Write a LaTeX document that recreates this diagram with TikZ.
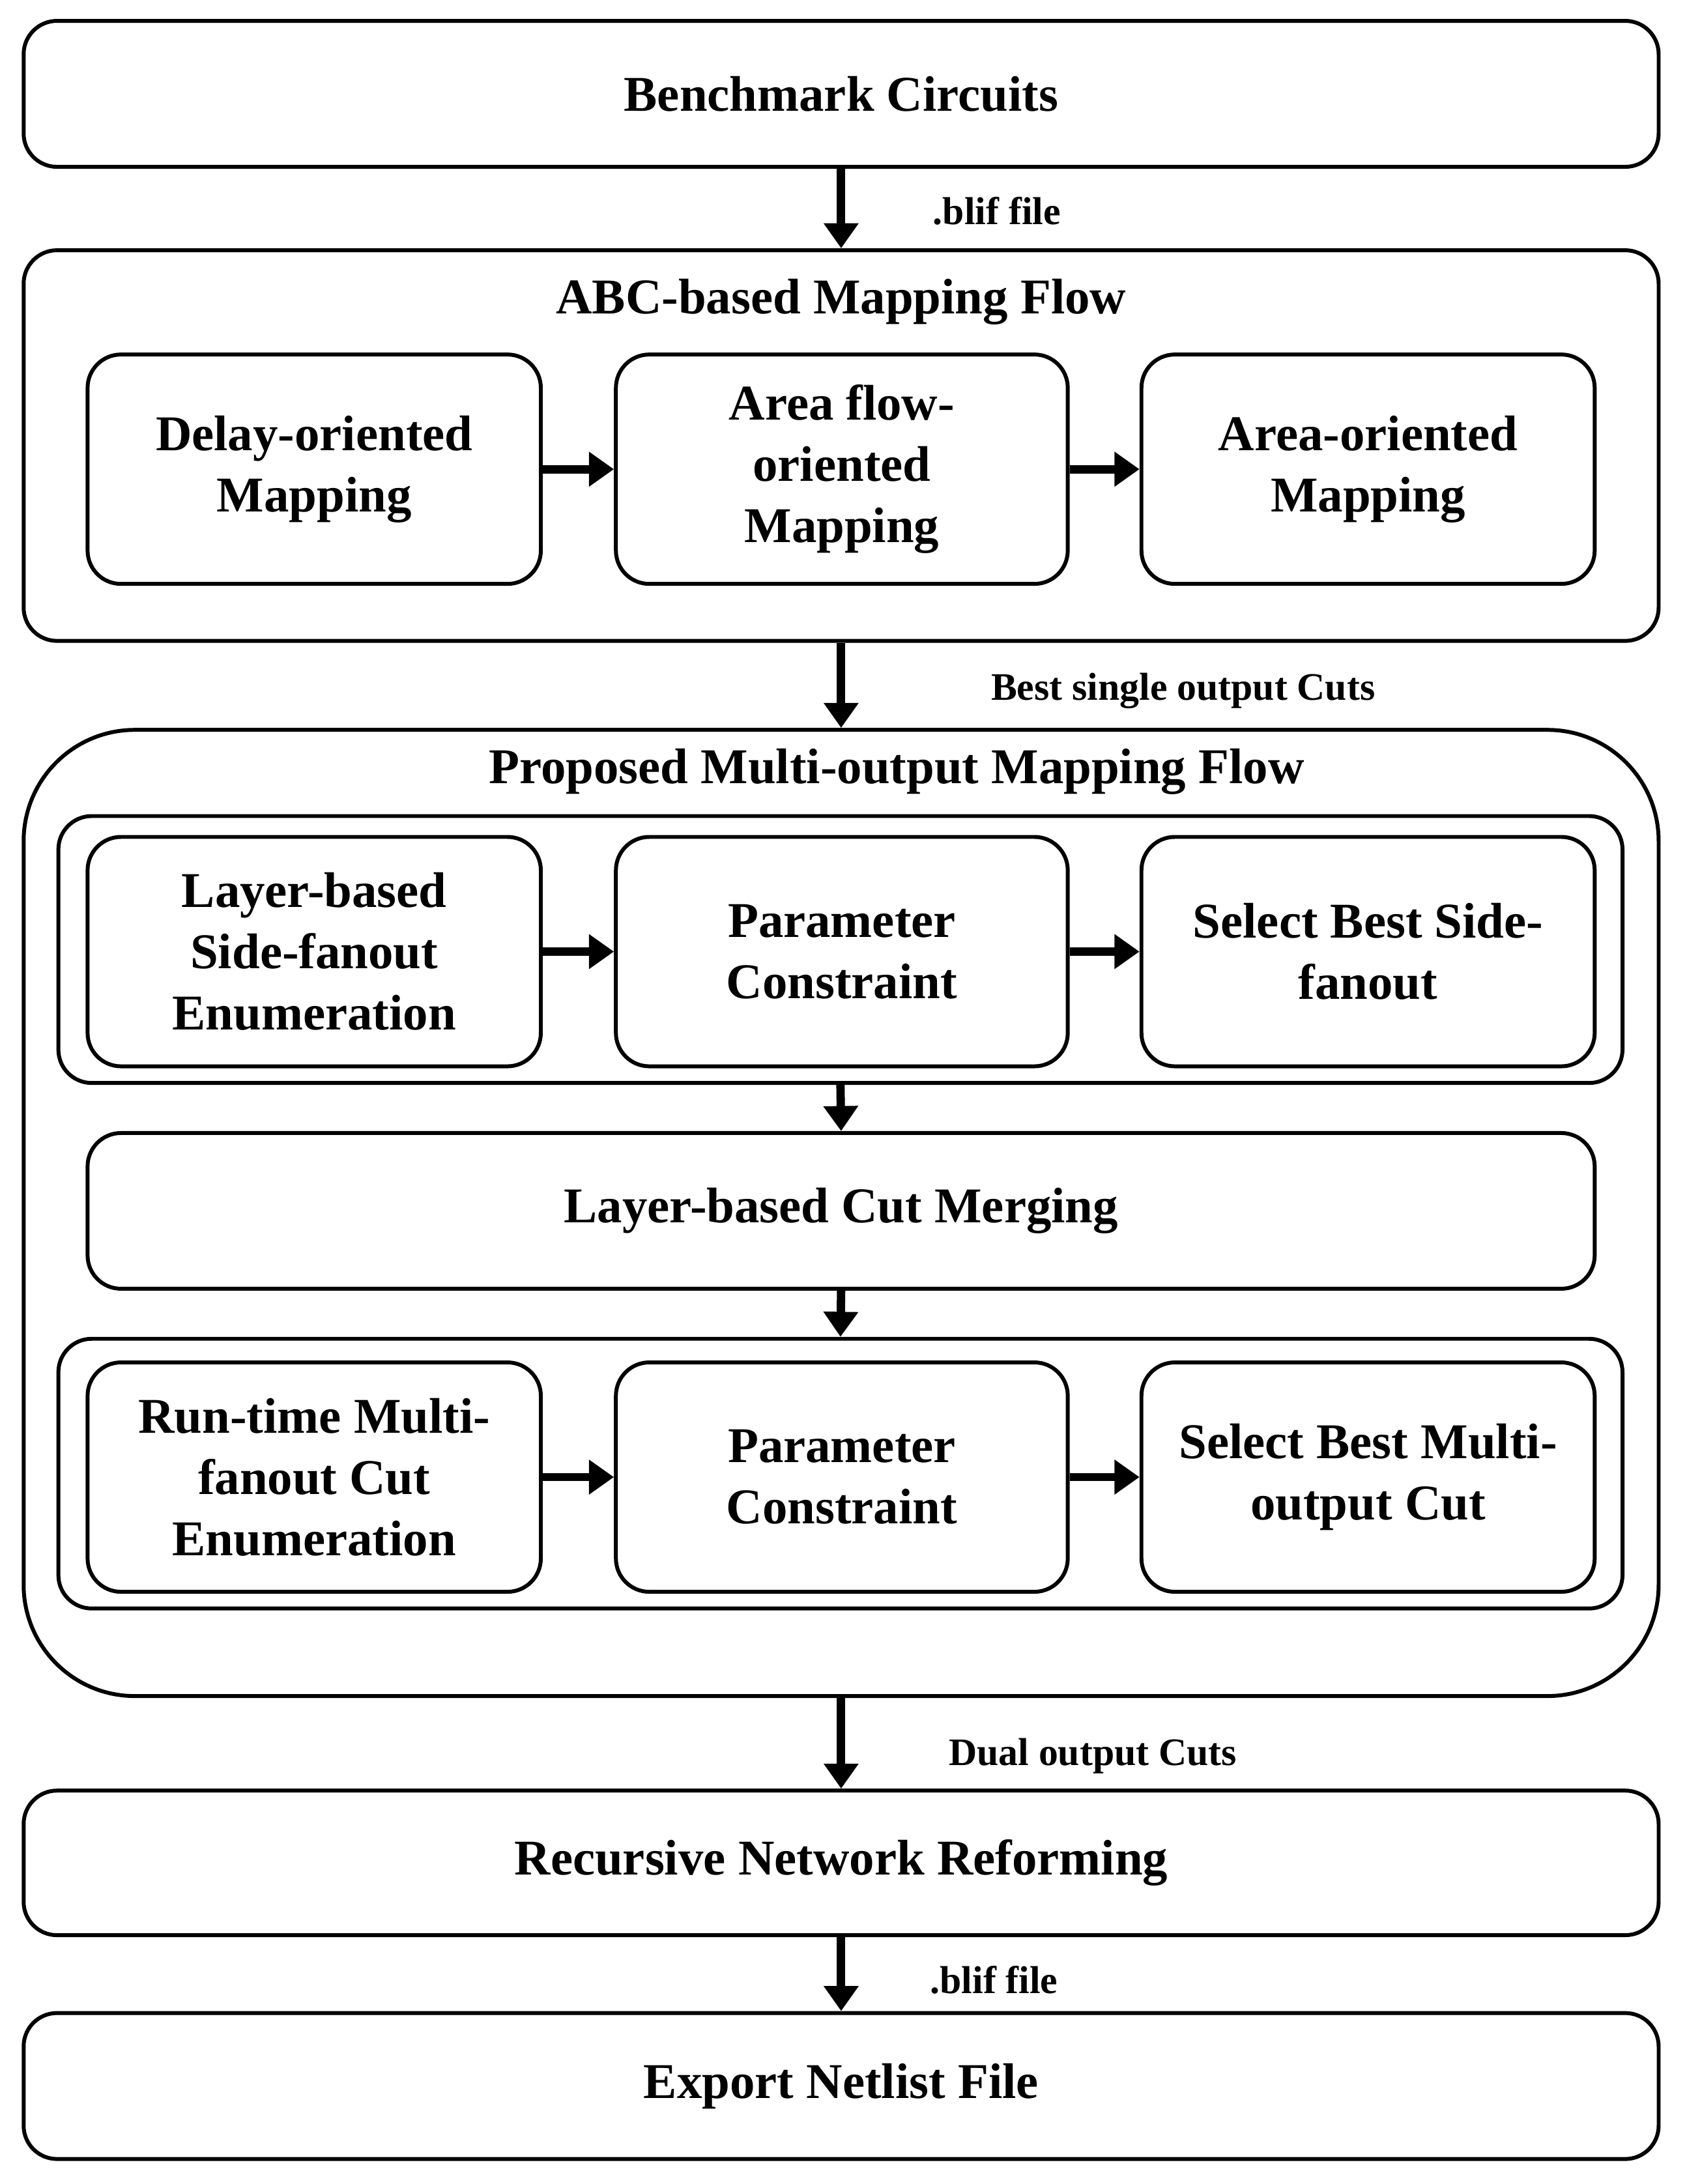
\documentclass[tikz,border=0pt]{standalone}
\usepackage{fontspec}
\setmainfont{Liberation Serif}
\usetikzlibrary{arrows.meta}
\begin{document}
\begin{tikzpicture}[x=0.5pt,y=-0.5pt,
 box/.style={draw,line width=1.4pt,rounded corners=12pt,inner sep=0pt,align=center,font=\fontsize{18}{22}\selectfont\bfseries},
 arr/.style={line width=3pt,-{Triangle[length=9pt,width=12pt]}},
 lab/.style={font=\fontsize{14}{16}\selectfont\bfseries,anchor=center}]
\useasboundingbox (0,0) rectangle (1213,1571);
\newcommand{\bx}[6][]{\node[box,#1,minimum width=(#4-#2)*0.5pt,minimum height=(#5-#3)*0.5pt] (#6) at ({(#2+#4)/2},{(#3+#5)/2}) {};}
% outer
\bx{17}{15}{1193}{120}{bench}
\node[box,draw=none] at (bench) {Benchmark Circuits};
\bx{17}{180}{1193}{461}{abc}
\node[box,draw=none] at (605,217) {ABC-based Mapping Flow};
\bx[rounded corners=40pt]{17}{525}{1193}{1220}{prop}
\node[box,draw=none] at (645,555) {Proposed Multi-output Mapping Flow};
\bx{17}{1288}{1193}{1392}{rec}
\node[box,draw=none] at (rec) {Recursive Network Reforming};
\bx{17}{1448}{1193}{1553}{exp}
\node[box,draw=none] at (exp) {Export Netlist File};
% ABC inner
\bx{63}{255}{389}{420}{a1}\node[box,draw=none] at (a1) {Delay-oriented\\Mapping};
\bx{443}{255}{768}{420}{a2}\node[box,draw=none] at (a2) {Area flow-\\oriented\\Mapping};
\bx{821}{255}{1147}{420}{a3}\node[box,draw=none] at (a3) {Area-oriented\\Mapping};
% group 1
\bx{42}{587}{1167}{779}{g1}
\bx{63}{602}{389}{767}{b1}\node[box,draw=none] at (b1) {Layer-based\\Side-fanout\\Enumeration};
\bx{443}{602}{768}{767}{b2}\node[box,draw=none] at (b2) {Parameter\\Constraint};
\bx{821}{602}{1147}{767}{b3}\node[box,draw=none] at (b3) {Select Best Side-\\fanout};
\bx{63}{815}{1147}{927}{cm}\node[box,draw=none] at (cm) {Layer-based Cut Merging};
% group 2
\bx{42}{963}{1167}{1157}{g2}
\bx{63}{980}{389}{1145}{c1}\node[box,draw=none] at (c1) {Run-time Multi-\\fanout Cut\\Enumeration};
\bx{443}{980}{768}{1145}{c2}\node[box,draw=none] at (c2) {Parameter\\Constraint};
\bx{821}{980}{1147}{1145}{c3}\node[box,draw=none] at (c3) {Select Best Multi-\\output Cut};
% arrows
\draw[arr] (bench.south) -- (abc.north);
\draw[arr] (abc.south) -- (prop.north);
\draw[arr] (prop.south) -- (rec.north);
\draw[arr] (rec.south) -- (exp.north);
\draw[arr] (g1.south) -- (cm.north);
\draw[arr] (cm.south) -- (g2.north);
\foreach \p/\q in {a1/a2,a2/a3,b1/b2,b2/b3,c1/c2,c2/c3} \draw[arr] (\p.east) -- (\q.west);
\node[lab] at (717,152) {.blif file};
\node[lab] at (851,497) {Best single output Cuts};
\node[lab] at (786,1263) {Dual output Cuts};
\node[lab] at (715,1424) {.blif file};
\end{tikzpicture}
\end{document}
